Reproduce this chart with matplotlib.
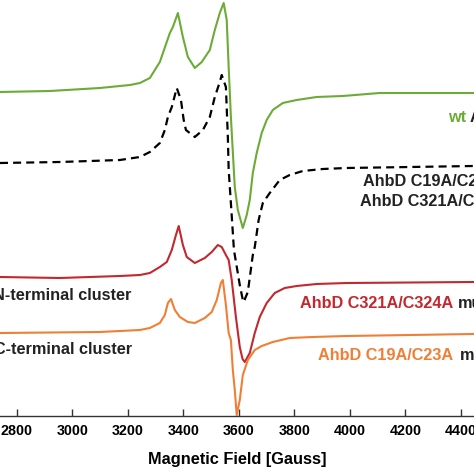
import matplotlib
matplotlib.use("Agg")
import matplotlib.pyplot as plt

plt.rcParams['font.family'] = ['Liberation Sans', 'DejaVu Sans']
plt.rcParams['font.weight'] = 'bold'

# Magnetic field (Gauss) and derivative intensity (a.u., stacked with offsets)
wt_field = [2739, 2919, 3099, 3207, 3243, 3279, 3315, 3351, 3362, 3380, 3398, 3416, 3441,
            3466, 3495, 3513, 3531, 3545, 3556, 3563, 3571, 3585, 3596, 3614, 3628, 3639,
            3650, 3664, 3682, 3700, 3722, 3758, 3808, 3880, 3974, 4107, 4445]
wt_int = [324, 325, 328, 331, 333, 338, 354, 383, 389, 403, 379, 359, 348,
          354, 366, 386, 403, 413, 396, 349, 299, 229, 206, 188, 201, 216,
          243, 263, 283, 296, 306, 313, 316, 319, 320, 323, 323]

mix_field = [2739, 2955, 3171, 3243, 3279, 3315, 3333, 3344, 3358, 3376, 3391, 3401, 3409,
             3441, 3470, 3495, 3513, 3531, 3538, 3553, 3560, 3563, 3571, 3582, 3603, 3614,
             3617, 3632, 3650, 3657, 3671, 3686, 3711, 3747, 3783, 3830, 3902, 3988, 4445]
mix_int = [253, 254, 256, 259, 264, 273, 286, 299, 309, 328, 316, 296, 286,
           279, 286, 299, 319, 334, 341, 329, 279, 246, 213, 166, 131, 116,
           114, 124, 161, 169, 196, 213, 223, 236, 241, 245, 247, 248, 250]

nterm_field = [2739, 2955, 3171, 3243, 3279, 3315, 3340, 3358, 3373, 3383, 3398, 3412, 3441,
               3477, 3502, 3524, 3538, 3553, 3563, 3574, 3589, 3603, 3613, 3621, 3639, 3657,
               3675, 3700, 3729, 3765, 3808, 3880, 3988, 4445]
nterm_int = [139, 138, 140, 141, 143, 149, 154, 166, 181, 190, 171, 159, 153,
             158, 164, 171, 169, 161, 156, 136, 99, 69, 57, 54, 63, 83,
             99, 113, 123, 128, 130, 132, 133, 134]

cterm_field = [2739, 3099, 3243, 3279, 3315, 3333, 3344, 3355, 3369, 3387, 3416, 3441, 3477,
               3502, 3520, 3535, 3542, 3553, 3563, 3571, 3578, 3585, 3592, 3603, 3614, 3632,
               3657, 3682, 3722, 3783, 3866, 3988, 4445]
cterm_int = [83, 84, 86, 88, 93, 101, 113, 117, 106, 99, 94, 93, 98,
             104, 116, 133, 136, 111, 83, 76, 46, 26, 1, 16, 41, 56,
             66, 70, 74, 78, 79, 80, 82]

xticks = [2800, 3000, 3200, 3400, 3600, 3800, 4000, 4200, 4400]

GREEN = '#6cab37'
RED = '#c3282e'
ORANGE = '#f07f35'
DARK = '#222222'

fig = plt.figure(figsize=(4.74, 4.74), dpi=100)
ax = fig.add_axes([0, 58/474, 1, 416/474])

ax.plot(wt_field, wt_int, color=GREEN, lw=1.5)
ax.plot(mix_field, mix_int, color='black', lw=1.6, linestyle=(0, (3.6, 2.3)))
ax.plot(nterm_field, nterm_int, color=RED, lw=1.5)
ax.plot(cterm_field, cterm_int, color=ORANGE, lw=1.5)

ax.set_xlim(2739, 4447)
ax.set_ylim(0, 416)

for s in ['top', 'right', 'left']:
    ax.spines[s].set_visible(False)
ax.spines['bottom'].set_color('#333333')
ax.spines['bottom'].set_linewidth(1.0)
ax.set_yticks([])
ax.set_xticks(xticks)
ax.set_xticklabels([str(t) for t in xticks], fontsize=10.3, fontweight='bold')
ax.tick_params(axis='x', direction='in', length=5, width=1.0, color='#333333', pad=6)
ax.set_xlabel('Magnetic Field [Gauss]', fontsize=11.8, fontweight='bold', labelpad=10)

fs = 11.7
ax.text(4352, 299, 'wt', color=GREEN, fontsize=fs, fontweight='bold', va='center', ha='left')
ax.text(4431, 299, 'AhbD', color=DARK, fontsize=fs, fontweight='bold', va='center', ha='left')
ax.text(4046, 234, 'AhbD C19A/C23A +', color=DARK, fontsize=fs, fontweight='bold', va='center', ha='left')
ax.text(4035, 214, 'AhbD C321A/C324A', color=DARK, fontsize=fs, fontweight='bold', va='center', ha='left')
ax.text(3819, 113, 'AhbD C321A/C324A', color=RED, fontsize=fs, fontweight='bold', va='center', ha='left')
ax.text(4388, 113, 'mutant', color=DARK, fontsize=fs, fontweight='bold', va='center', ha='left')
ax.text(3884, 61, 'AhbD C19A/C23A', color=ORANGE, fontsize=fs, fontweight='bold', va='center', ha='left')
ax.text(4395, 61, 'mutant', color=DARK, fontsize=fs, fontweight='bold', va='center', ha='left')
ax.text(3214, 121, 'N-terminal cluster', color=DARK, fontsize=fs, fontweight='bold', va='center', ha='right')
ax.text(3214, 66, 'C-terminal cluster', color=DARK, fontsize=fs, fontweight='bold', va='center', ha='right')

fig.savefig('out.png', dpi=100)
